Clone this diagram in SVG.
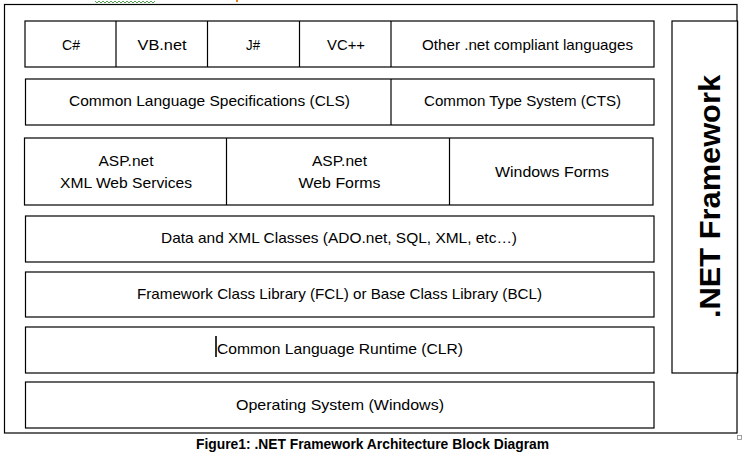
<svg xmlns="http://www.w3.org/2000/svg" width="748" height="456" viewBox="0 0 748 456">
<style>
.box{fill:#fff;stroke:#000;stroke-width:1.2}
.ln{stroke:#000;stroke-width:1.2}
.t{font-family:"Liberation Sans",Arial,sans-serif;font-size:15px;fill:#000;text-anchor:middle}
.big{font-family:"Liberation Sans",Arial,sans-serif;font-size:30px;font-weight:bold;fill:#000;text-anchor:middle}
.cap{font-family:"Liberation Sans",Arial,sans-serif;font-size:14px;font-weight:bold;fill:#000;text-anchor:middle}
</style>
<rect width="748" height="456" fill="#fff"/>
<polyline points="95,1 97,3 99,1 101,3 103,1 105,3 107,1 109,3 111,1 113,3 115,1 117,3 119,1 121,3 123,1 125,3 127,1 129,3 131,1 133,3 135,1 137,3 139,1 141,3 143,1 145,3 147,1 149,3 151,1 153,3 155,1" fill="none" stroke="#2a8a2a" stroke-width="0.8"/>
<rect x="236" y="0" width="2" height="2" fill="#e08020"/>
<g id="frame"><rect class="box" x="4.5" y="4.5" width="732.5" height="428.5" fill="none"/></g>
<g id="languages">
<rect class="box" x="25" y="21" width="629" height="46"/>
<line class="ln" x1="116" y1="21" x2="116" y2="67" stroke-width="2"/>
<line class="ln" x1="207.5" y1="21" x2="207.5" y2="67"/>
<line class="ln" x1="299.5" y1="21" x2="299.5" y2="67"/>
<line class="ln" x1="391" y1="21" x2="391" y2="67"/>
<text class="t" x="71" y="49.5" textLength="18" lengthAdjust="spacingAndGlyphs">C#</text>
<text class="t" x="162" y="49.5" textLength="49" lengthAdjust="spacingAndGlyphs">VB.net</text>
<text class="t" x="253" y="49.5" textLength="14" lengthAdjust="spacingAndGlyphs">J#</text>
<text class="t" x="346" y="49.5" textLength="38" lengthAdjust="spacingAndGlyphs">VC++</text>
<text class="t" x="527.5" y="49.5" textLength="211" lengthAdjust="spacingAndGlyphs">Other .net compliant languages</text>
</g>
<g id="cls-cts">
<rect class="box" x="25.5" y="79" width="628.5" height="46"/>
<line class="ln" x1="391" y1="79" x2="391" y2="125"/>
<text class="t" x="209.5" y="105.5" textLength="281" lengthAdjust="spacingAndGlyphs">Common Language Specifications (CLS)</text>
<text class="t" x="522.5" y="105.5" textLength="197" lengthAdjust="spacingAndGlyphs">Common Type System (CTS)</text>
</g>
<g id="asp">
<rect class="box" x="24.5" y="138" width="628.5" height="67"/>
<line class="ln" x1="226.5" y1="138" x2="226.5" y2="205"/>
<line class="ln" x1="449.5" y1="138" x2="449.5" y2="205"/>
<text class="t" x="126" y="166" textLength="55" lengthAdjust="spacingAndGlyphs">ASP.net</text>
<text class="t" x="126" y="188" textLength="132" lengthAdjust="spacingAndGlyphs">XML Web Services</text>
<text class="t" x="339.5" y="166" textLength="55" lengthAdjust="spacingAndGlyphs">ASP.net</text>
<text class="t" x="339.5" y="188" textLength="82" lengthAdjust="spacingAndGlyphs">Web Forms</text>
<text class="t" x="552" y="177" textLength="114" lengthAdjust="spacingAndGlyphs">Windows Forms</text>
</g>
<g id="data">
<rect class="box" x="25.5" y="216" width="628.5" height="46"/>
<text class="t" x="339" y="243" textLength="356" lengthAdjust="spacingAndGlyphs">Data and XML Classes (ADO.net, SQL, XML, etc…)</text>
</g>
<g id="fcl">
<rect class="box" x="25.5" y="272" width="628.5" height="45"/>
<text class="t" x="339.5" y="298.5" textLength="405" lengthAdjust="spacingAndGlyphs">Framework Class Library (FCL) or Base Class Library (BCL)</text>
</g>
<g id="clr">
<rect class="box" x="25.5" y="327" width="628.5" height="46"/>
<text class="t" x="340" y="353.5" textLength="246" lengthAdjust="spacingAndGlyphs">Common Language Runtime (CLR)</text>
<line x1="216" y1="336" x2="216" y2="357" stroke="#000" stroke-width="1.6"/>
</g>
<g id="os">
<rect class="box" x="25.5" y="382" width="628.5" height="46"/>
<text class="t" x="340" y="410" textLength="208" lengthAdjust="spacingAndGlyphs">Operating System (Windows)</text>
</g>
<g id="dotnet">
<rect class="box" x="672" y="21" width="65.5" height="352"/>
<line class="ln" x1="737.5" y1="21" x2="737.5" y2="373" stroke-width="2.2"/>
<text class="big" transform="translate(720,196.5) rotate(-90)" x="0" y="0" textLength="243" lengthAdjust="spacingAndGlyphs">.NET Framework</text>
</g>
<rect x="737.5" y="435.5" width="4" height="4" fill="#fff" stroke="#888" stroke-width="0.8"/>
<text class="cap" x="372.5" y="448.5" textLength="353" lengthAdjust="spacingAndGlyphs">Figure1: .NET Framework Architecture Block Diagram</text>
</svg>
